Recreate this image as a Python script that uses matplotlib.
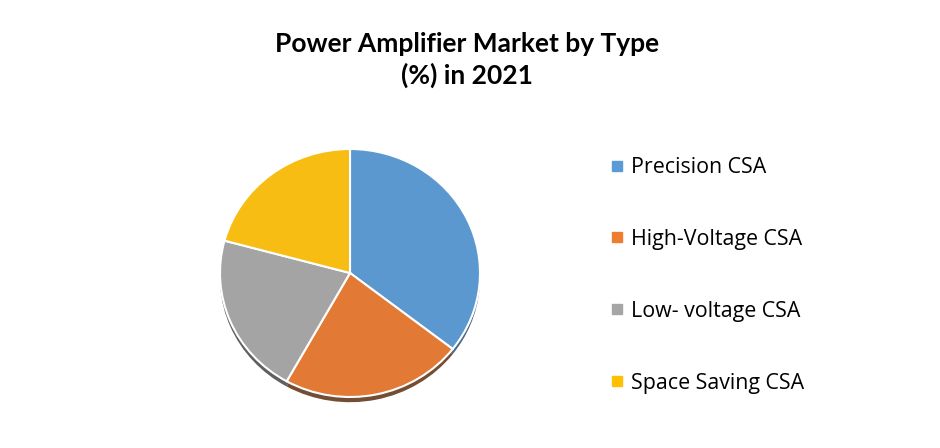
import matplotlib
matplotlib.use("Agg")
import matplotlib.pyplot as plt
from matplotlib.lines import Line2D

categories = ["Precision CSA", "High-Voltage CSA", "Low- voltage CSA", "Space Saving CSA"]
shares = [35.5, 22.6, 21.1, 20.8]
colors = ["#5B98CF", "#E27A35", "#A4A4A4", "#F7BD13"]
legend_colors = ["#5B9BD5", "#ED7D31", "#A5A5A5", "#FFC000"]
shadow_colors = ["#2E4F6E", "#5A2E10", "#444444", "#6B5208"]
title = "Power Amplifier Market by Type\n(%) in 2021"

W, H = 940, 448
fig = plt.figure(figsize=(W / 100, H / 100), dpi=100)
fig.patch.set_facecolor("white")

cx, cy, rx, ry = 350, 273, 130, 124
ax = fig.add_axes([(cx - rx) / W, (H - cy - ry) / H, 2 * rx / W, 2 * ry / H])

# shadow
ax.pie(shares, colors=shadow_colors, startangle=90, counterclock=False,
       radius=1.0, center=(0, -0.042), frame=True,
       wedgeprops=dict(linewidth=0, alpha=0.85))
# main pie
wedges, _ = ax.pie(shares, colors=colors, startangle=90, counterclock=False,
                   radius=1.0, center=(0, 0), frame=True,
                   wedgeprops=dict(edgecolor="white", linewidth=1.5))
ax.set_aspect("auto")
ax.set_xlim(-1, 1)
ax.set_ylim(-1, 1)
ax.axis("off")

fig.text(0.497, 1 - 60 / H, title, ha="center", va="center",
         fontsize=19, fontweight="bold", family=["Lato", "DejaVu Sans"],
         linespacing=1.3)

handles = [Line2D([0], [0], marker="s", linestyle="none", markersize=7.5,
                  markerfacecolor=c, markeredgecolor=c) for c in legend_colors]
leg = fig.legend(handles, categories, loc="upper left",
                 bbox_to_anchor=(611 / W, 1 - 157 / H), frameon=False,
                 prop=dict(family=["Open Sans", "DejaVu Sans"], size=15.4),
                 handlelength=0.6, handletextpad=0.35, labelspacing=2.38,
                 borderaxespad=0, borderpad=0)

fig.savefig("out.png", dpi=100, facecolor="white")
